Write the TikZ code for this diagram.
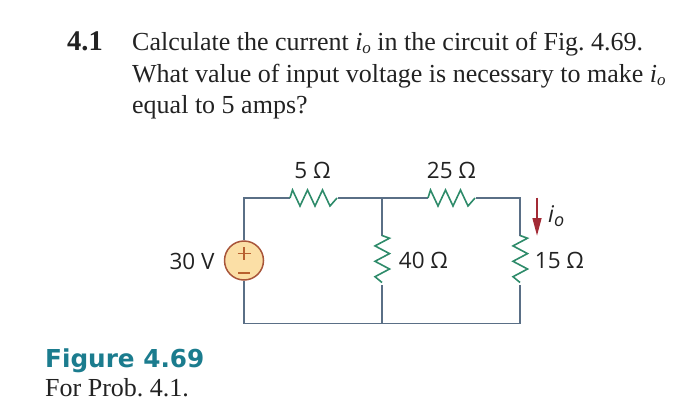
\documentclass[tikz,border=0pt]{standalone}
\usepackage{fontspec}
\setmainfont{Liberation Serif}
\newfontfamily\lblfont{Open Sans}
\newfontfamily\figfont{DejaVu Sans}
\definecolor{wirecol}{HTML}{5A6F86}
\definecolor{rescol}{HTML}{2E8B6A}
\definecolor{srcfill}{HTML}{FBDFA6}
\definecolor{srcline}{HTML}{A8553A}
\definecolor{polcol}{HTML}{B8602F}
\definecolor{arrowcol}{HTML}{A32A35}
\definecolor{figcol}{HTML}{1B7C8E}
\definecolor{txtcol}{HTML}{222222}
\tikzset{
  wire/.style={draw=wirecol,line width=1.7pt,line join=miter},
  res/.style={draw=rescol,line width=1.6pt,line join=miter},
  srcnode/.style={circle,draw=srcline,fill=srcfill,line width=1.5pt,minimum size=39pt,inner sep=0pt},
  body/.style={anchor=base west,inner sep=0pt,font=\frenchspacing\fontsize{26}{30}\selectfont,text=txtcol},
  lbl/.style={anchor=base,inner sep=0pt,font=\lblfont\fontsize{22.5}{25}\selectfont,text=txtcol},
  polar/.style={draw=polcol,line width=1.4pt}
}
\begin{document}
\begin{tikzpicture}[x=1pt,y=-1pt]
\useasboundingbox (0,0) rectangle (700,412);
% text
\node[body,font=\fontsize{28.5}{30}\selectfont\bfseries] (num) at (67,50) {4.1};
\node[body] (l1) at (132,50) {Calculate the current \textit{i}\raisebox{-3pt}{\fontsize{17}{20}\selectfont\textit{o}} in the circuit of Fig. 4.69.};
\node[body] (l2) at (132,82) {What value of input voltage is necessary to make \textit{i}\raisebox{-3pt}{\fontsize{17}{20}\selectfont\textit{o}}};
\node[body] (l3) at (132,113) {equal to 5 amps?};
\node[anchor=base west,inner sep=0pt,font=\figfont\bfseries\fontsize{24.7}{30}\selectfont,text=figcol] (fig) at (45,367) {Figure 4.69};
\node[body] (cap) at (45,396.5) {For Prob. 4.1.};
% junctions
\coordinate (tl) at (244,198);
\coordinate (bl) at (244,323.5);
\coordinate (tm) at (382,198);
\coordinate (bm) at (382,323.5);
\coordinate (tr) at (520,198);
\coordinate (br) at (520,323.5);
\coordinate (r1a) at (290,198);
\coordinate (r1b) at (337.5,198);
\coordinate (r2a) at (428,198);
\coordinate (r2b) at (475.5,198);
\coordinate (r3a) at (382,235.5);
\coordinate (r3b) at (382,285);
\coordinate (r4a) at (520,235.5);
\coordinate (r4b) at (520,285);
% source
\node[srcnode] (vs) at (244,260.5) {};
% wires
\draw[wire] (vs.north) -- (tl) -- (r1a);
\draw[wire] (r1b) -- (tm) -- (r2a);
\draw[wire] (r2b) -- (tr) -- (r4a);
\draw[wire] (r4b) -- (br) -- (bm) -- (bl) -- (vs.south);
\draw[wire] (tm) -- (r3a);
\draw[wire] (r3b) -- (bm);
% resistors
\foreach \n in {r1a,r2a}{
\draw[res] (\n) -- ++(2.5,-8) -- ++(7.5,16) -- ++(7.5,-16) -- ++(7.5,16) -- ++(7.5,-16) -- ++(7.5,16) -- ++(7,-8);
}
\foreach \n in {r3a,r4a}{
\draw[res] (\n) -- ++(7.5,2.7) -- ++(-14.5,7.7) -- ++(14.5,7.7) -- ++(-14.5,7.7) -- ++(14.5,7.7) -- ++(-14.5,7.7) -- ++(7,5.8);
}
% polarity
\draw[polar] (237.5,253.5) -- (250.5,253.5) (244,247) -- (244,259.5);
\draw[polar] (238,273) -- (250,273);
% arrow
\coordinate (ia) at (537,197.5);
\coordinate (ib) at (537,235.5);
\draw[draw=arrowcol,line width=2pt] (ia) -- (537,222);
\fill[arrowcol] (532.3,218) -- (541.7,218) -- (ib) -- cycle;
% labels
\node[lbl] (l5) at (312.5,178) {5 Ω};
\node[lbl] (l25) at (451.5,178) {25 Ω};
\node[lbl] (l30) at (192,269) {30 V};
\node[lbl] (l40) at (423.5,268.5) {40 Ω};
\node[lbl] (l15) at (559.5,268.5) {15 Ω};
\node[anchor=base west,inner sep=0pt,font=\lblfont\itshape\fontsize{23}{25}\selectfont,text=txtcol] (io) at (548,222) {i\raisebox{-4.5pt}{\fontsize{18}{20}\selectfont o}};
\end{tikzpicture}
\end{document}
